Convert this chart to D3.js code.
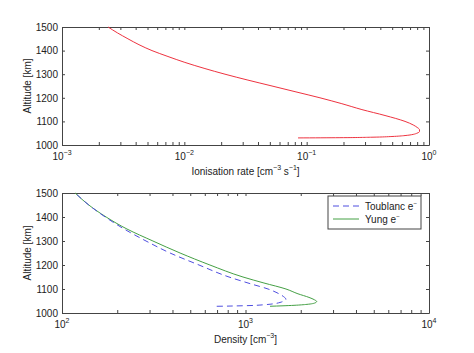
<!DOCTYPE html>
<html>
<head>
<meta charset="utf-8">
<script src="https://cdn.jsdelivr.net/npm/d3@7"></script>
<style>
body { margin: 0; background: #fff; }
text { font-family: "Liberation Sans", Arial, sans-serif; fill: #222; }
.axis path, .axis line { stroke: #444; }
</style>
</head>
<body>
<script>
// ionisation rate profile
var ionAlt = [1030, 1031, 1033, 1036, 1040, 1045, 1050, 1057, 1065, 1075, 1085, 1100, 1125, 1150, 1175, 1200, 1225, 1250, 1275, 1300, 1325, 1350, 1375, 1400, 1425, 1450, 1475, 1500],
	ionRate = [0.085, 0.187, 0.342, 0.498, 0.637, 0.743, 0.798, 0.836, 0.836, 0.798, 0.743, 0.637, 0.437, 0.283, 0.194, 0.1285, 0.0818, 0.0521, 0.0331, 0.0215, 0.0145, 0.0101, 0.00735, 0.00544, 0.00426, 0.00346, 0.00284, 0.00238];

// electron density profiles
var toubAlt = [1028, 1028.5, 1029.5, 1031, 1034, 1038, 1044, 1050, 1058, 1065, 1080, 1100, 1120, 1150, 1200, 1250, 1300, 1350, 1400, 1450, 1500],
	toubDens = [697, 773, 888, 1058, 1245, 1412, 1542, 1621, 1662, 1632, 1523, 1327, 1085, 813, 558, 388, 287, 218, 172, 140, 118];
var yungAlt = [1028, 1030, 1032, 1036, 1042, 1048, 1055, 1065, 1080, 1100, 1125, 1150, 1200, 1250, 1300, 1350, 1400, 1450, 1500],
	yungDens = [1360, 1601, 1838, 2163, 2392, 2443, 2377, 2218, 1932, 1662, 1261, 969, 640, 440, 313, 226, 174, 140, 118];

var altTicks = [1000, 1100, 1200, 1300, 1400, 1500];
var ionTicks = [1e-3, 1e-2, 1e-1, 1],
	ionExp = ['-3', '-2', '-1', '0'];
var densTicks = [1e2, 1e3, 1e4],
	densExp = ['2', '3', '4'];

var width = 474, height = 353,
	L = 62, R = 429;

var svg = d3.select('body')
	.append('svg')
	.attr('width', width)
	.attr('height', height);

function panel(y0, y1, majors, exps, xlab) {
	var x = d3.scaleLog()
		.domain([majors[0], majors[majors.length - 1]])
		.range([L, R]);
	var y = d3.scaleLinear()
		.domain([1000, 1500])
		.range([y1, y0]);

	var minors = [];
	majors.slice(0, -1).forEach(function(d) {
		for (var k = 2; k < 10; k++) minors.push(d * k);
	});
	var allx = majors.concat(minors);

	var g = svg.append('g');

	g.append('g').attr('class', 'axis')
		.attr('transform', 'translate(0,' + y1 + ')')
		.call(d3.axisBottom(x).tickValues(allx).tickSizeInner(-3).tickSizeOuter(0).tickFormat(''));
	g.append('g').attr('class', 'axis')
		.attr('transform', 'translate(0,' + y0 + ')')
		.call(d3.axisTop(x).tickValues(allx).tickSizeInner(-3).tickSizeOuter(0).tickFormat(''));
	g.append('g').attr('class', 'axis')
		.attr('transform', 'translate(' + L + ',0)')
		.call(d3.axisLeft(y).tickValues(altTicks).tickSizeInner(-3).tickSizeOuter(0).tickPadding(4).tickFormat(d3.format('d')))
		.selectAll('text').style('font-size', '10px');
	g.append('g').attr('class', 'axis')
		.attr('transform', 'translate(' + R + ',0)')
		.call(d3.axisRight(y).tickValues(altTicks).tickSizeInner(-3).tickSizeOuter(0).tickFormat(''));

	// 10^n labels
	majors.forEach(function(d, i) {
		var t = g.append('text')
			.attr('x', x(d))
			.attr('y', y1 + 15)
			.attr('text-anchor', 'middle')
			.style('font-size', '10px');
		t.append('tspan').text('10');
		t.append('tspan').attr('dy', -5).style('font-size', '7px').text(exps[i].replace('-', '\u2212'));
	});

	// axis titles
	g.append('text')
		.attr('transform', 'translate(31,' + ((y0 + y1) / 2) + ') rotate(-90)')
		.attr('text-anchor', 'middle')
		.style('font-size', '10px')
		.text('Altitude [km]');

	var xt = g.append('text')
		.attr('x', (L + R) / 2)
		.attr('y', y1 + 30)
		.attr('text-anchor', 'middle')
		.style('font-size', '10px');
	xlab.forEach(function(p) {
		if (p.sup) xt.append('tspan').attr('dy', -5).style('font-size', '7px').text(p.sup);
		else xt.append('tspan').attr('dy', p.down ? 5 : 0).text(p.t);
	});

	return {x: x, y: y, g: g};
}

function curve(p, alt, val, color, dash) {
	var line = d3.line()
		.x(function(d, i) { return p.x(val[i]); })
		.y(function(d) { return p.y(d); })
		.curve(d3.curveMonotoneY);
	p.g.append('path')
		.datum(alt)
		.attr('d', line)
		.attr('fill', 'none')
		.attr('stroke', color)
		.attr('stroke-width', 1)
		.attr('stroke-dasharray', dash || null);
}

// top panel
var topPanel = panel(27, 145, ionTicks, ionExp, [
	{t: 'Ionisation rate [cm'}, {sup: '\u22123'}, {t: ' s', down: true}, {sup: '\u22121'}, {t: ']', down: true}
]);
curve(topPanel, ionAlt, ionRate, '#ee3340');

// bottom panel
var botPanel = panel(193, 313, densTicks, densExp, [
	{t: 'Density [cm'}, {sup: '\u22123'}, {t: ']', down: true}
]);
curve(botPanel, yungAlt, yungDens, '#45a045');
curve(botPanel, toubAlt, toubDens, '#4f4fe0', '6,4');

// legend
var leg = botPanel.g.append('g');
leg.append('rect')
	.attr('x', 328).attr('y', 196)
	.attr('width', 93).attr('height', 33)
	.attr('fill', '#fff').attr('stroke', '#444');
var legItems = [
	{name: 'Toublanc e', color: '#4f4fe0', dash: '6,4'},
	{name: 'Yung e', color: '#45a045', dash: null}
];
legItems.forEach(function(d, i) {
	var yy = 206 + i * 13;
	leg.append('line')
		.attr('x1', 333).attr('x2', 359)
		.attr('y1', yy).attr('y2', yy)
		.attr('stroke', d.color)
		.attr('stroke-dasharray', d.dash);
	var t = leg.append('text')
		.attr('x', 365).attr('y', yy + 3.5)
		.style('font-size', '10px');
	t.append('tspan').text(d.name);
	t.append('tspan').attr('dy', -5).style('font-size', '6px').text('\u2212');
});
</script>
</body>
</html>
